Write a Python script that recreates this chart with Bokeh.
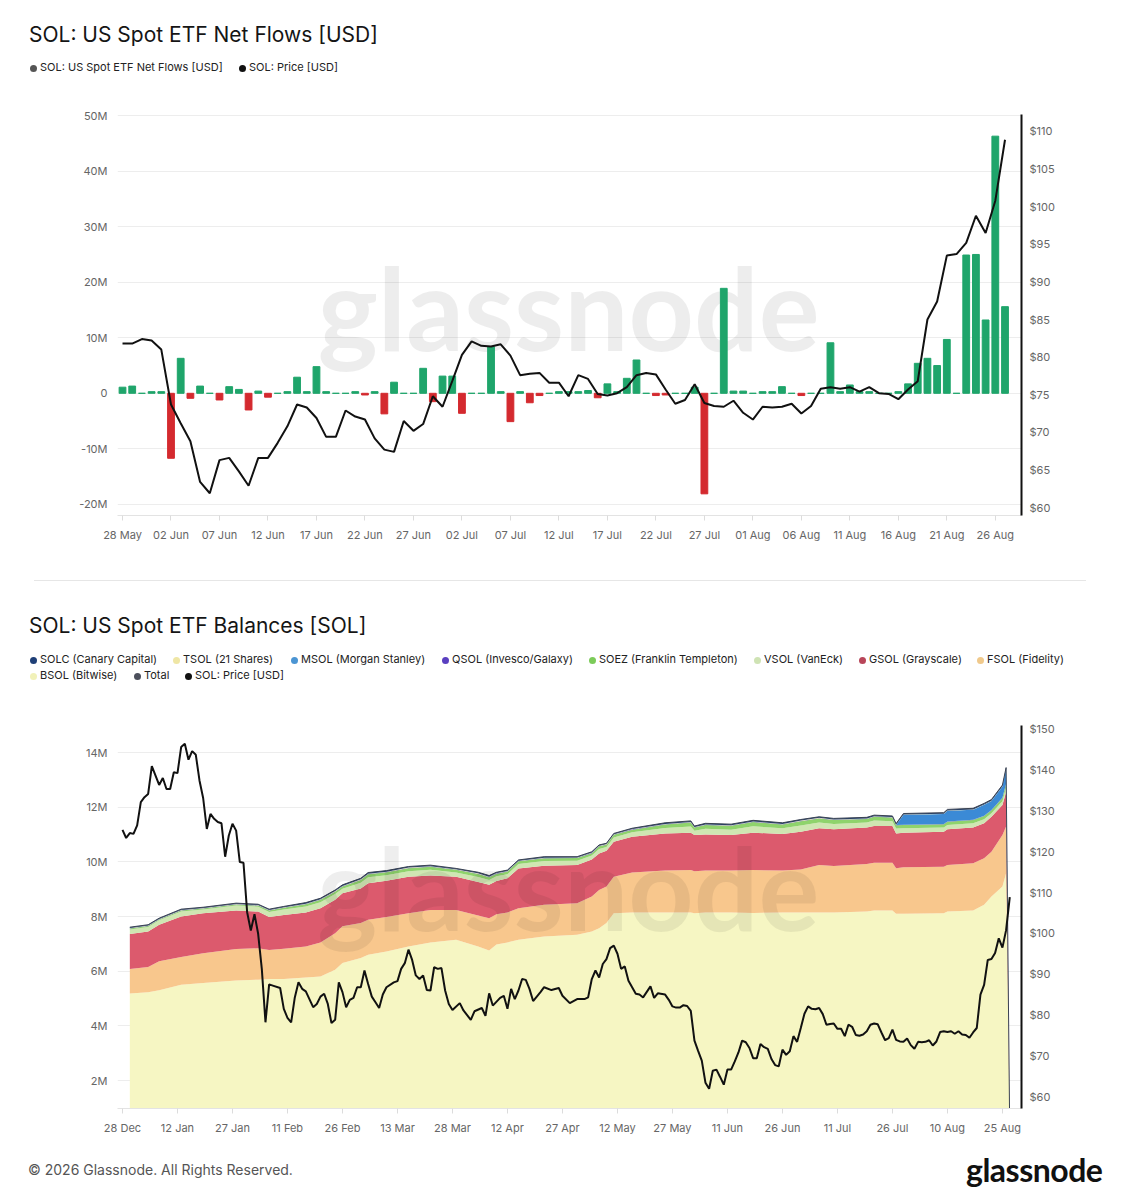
import pandas as pd
from bokeh.plotting import figure
from bokeh.layouts import column
from bokeh.models import (ColumnDataSource, Range1d, LinearAxis, FixedTicker,
                          DatetimeTickFormatter, Div)
from bokeh.core.properties import value
from bokeh.embed import file_html
from bokeh.resources import INLINE

FONT = "Inter"
DAY = 86400000

# ---------------- data: net flows (daily from 28 May) ----------------
flow_start = pd.Timestamp("2026-05-28")
net_flows_m = [1.1, 1.3, 0, 0.3, 0.3, -11.7, 6.3, -0.9, 1.3, 0,
               -1.2, 1.2, 0.7, -3.0, 0.4, -0.7, 0, 0.3, 2.9, 0.3,
               4.8, 0.3, 0, 0, 0.3, -0.3, 0.3, -3.7, 2.0, 0,
               0, 4.5, -1.5, 3.1, 3.1, -3.6, 0, 0, 8.4, 0.3,
               -5.1, 0.3, -1.7, -0.4, 0, 0.3, 0.3, 0.3, 0.5, -0.8,
               1.7, 0.3, 2.7, 6.0, 0, -0.4, -0.3, 0, 0, 1.1,
               -18.1, 0, 18.9, 0.4, 0.4, 0, 0.3, 0.3, 1.2, 0,
               -0.4, 0, 0, 9.1, 0.3, 1.5, 0.3, 0.3, 0, 0,
               0.3, 1.7, 5.4, 6.3, 5.0, 9.7, 0, 24.9, 25.0, 13.2,
               46.3, 15.6]
price_recent = [81.8, 81.8, 82.4, 82.2, 81.0, 73.7, 71.2, 68.8, 63.4, 61.9,
                66.3, 66.6, 64.8, 62.9, 66.6, 66.6, 68.6, 70.8, 73.7, 73.3,
                71.9, 69.4, 69.4, 72.9, 72.1, 71.7, 69.2, 67.7, 67.4, 71.5,
                70.2, 71.1, 74.8, 73.4, 76.8, 80.3, 82.1, 81.5, 81.4, 81.7,
                80.2, 77.6, 77.8, 77.9, 76.6, 76.6, 74.8, 77.6, 77.1, 75.1,
                74.9, 75.2, 76.0, 77.6, 77.9, 77.7, 75.7, 73.8, 74.3, 76.4,
                73.9, 73.5, 73.4, 74.2, 72.6, 71.7, 73.4, 73.3, 73.4, 73.8,
                72.5, 73.5, 75.8, 76.0, 75.8, 76.0, 75.4, 76.0, 75.2, 75.1,
                74.4, 75.7, 76.8, 85.0, 87.4, 93.5, 93.7, 95.2, 98.8, 96.5,
                100.8, 108.9]

flow_ticks_m = [-20, -10, 0, 10, 20, 30, 40, 50]
flow_price_ticks = [60, 65, 70, 75, 80, 85, 90, 95, 100, 105, 110]

# ---------------- data: ETF balances (from 28 Dec) ----------------
bal_start = pd.Timestamp("2025-12-28")
price_early_day = [0, 1, 2, 3, 4, 5, 6, 7, 8, 10, 11, 12, 13, 14, 15, 16, 17, 18, 19, 20,
                   21, 22, 23, 24, 25, 26, 27, 28, 29, 30, 31, 32, 33, 34, 35, 36, 37, 38, 39, 40,
                   41, 43, 44, 45, 46, 47, 48, 49, 50, 52, 53, 54, 55, 56, 57, 58, 59, 60, 61, 62,
                   63, 64, 65, 66, 67, 68, 69, 70, 71, 72, 74, 75, 76, 77, 78, 79, 80, 81, 82, 83,
                   84, 85, 86, 87, 88, 89, 90, 92, 93, 95, 96, 98, 99, 100, 101, 103, 104, 105, 106, 107,
                   108, 109, 110, 111, 112, 114, 115, 117, 119, 120, 122, 124, 126, 127, 128, 129, 130, 131, 132, 133,
                   134, 135, 136, 137, 138, 140, 141, 142, 144, 145, 146, 148, 149, 150]
price_early = [125.4, 123.4, 124.6, 124.4, 126.5, 132.2, 133.4, 134.2, 141.0, 136.4, 138.1, 135.4, 135.4, 139.5, 139.3, 145.7, 146.5, 142.6, 144.7, 143.8,
               137.5, 133.2, 125.6, 129.3, 128.1, 127.3, 127.0, 118.8, 124.0, 126.9, 125.2, 117.5, 117.3, 105.2, 100.7, 104.7, 99.9, 91.3, 78.2, 87.5,
               87.2, 86.6, 81.5, 79.3, 78.2, 84.3, 88.0, 86.4, 85.8, 81.9, 82.7, 84.5, 85.2, 82.7, 78.0, 78.8, 88.0, 85.6, 81.9, 83.7,
               84.2, 86.8, 86.8, 90.9, 87.6, 84.5, 83.1, 81.7, 85.0, 86.8, 88.0, 88.3, 91.3, 92.7, 96.0, 93.5, 89.7, 88.8, 89.7, 86.1,
               86.0, 91.7, 91.3, 91.5, 86.0, 82.7, 81.2, 82.9, 81.1, 78.8, 80.9, 81.7, 79.8, 85.3, 82.3, 84.2, 84.7, 81.5, 86.4, 83.9,
               86.0, 88.8, 88.6, 86.4, 83.4, 85.6, 86.8, 86.1, 86.6, 84.7, 82.9, 83.9, 83.9, 84.3, 88.8, 90.9, 89.2, 92.5, 93.7, 96.4,
               97.0, 95.0, 91.3, 91.9, 88.4, 85.2, 85.0, 84.3, 87.0, 84.2, 85.3, 85.0, 83.7, 82.1]

stack_day = [2, 7, 10, 16, 22, 31, 37, 40, 44, 50, 54, 58, 60, 65, 67, 72, 78, 84,
             91, 97, 100, 102, 105, 108, 115, 124, 128, 130, 132, 134, 139, 148, 155, 156,
             159, 166, 172, 180, 185, 190, 194, 203, 205, 210, 211, 213, 224, 225, 232, 235,
             237, 240, 241, 242]
bsol = [5.18, 5.23, 5.30, 5.50, 5.57, 5.66, 5.69, 5.71, 5.71, 5.77, 5.81, 6.05, 6.30, 6.48, 6.60, 6.72, 6.90, 7.05,
        7.15, 6.90, 6.76, 6.98, 7.05, 7.15, 7.27, 7.33, 7.45, 7.57, 7.76, 8.12, 8.15, 8.15, 8.15, 8.12,
        8.15, 8.15, 8.13, 8.15, 8.15, 8.15, 8.15, 8.18, 8.22, 8.22, 8.10, 8.10, 8.12, 8.18, 8.22, 8.43,
        8.73, 9.10, 9.58, 0]
fsol = [0.90, 0.92, 1.06, 1.02, 1.09, 1.15, 1.15, 1.07, 1.11, 1.13, 1.24, 1.34, 1.34, 1.28, 1.28, 1.26, 1.22, 1.19,
        1.09, 1.14, 1.18, 1.10, 1.10, 1.15, 1.16, 1.16, 1.28, 1.40, 1.34, 1.34, 1.46, 1.53, 1.55, 1.54,
        1.53, 1.53, 1.57, 1.53, 1.57, 1.74, 1.70, 1.74, 1.75, 1.75, 1.67, 1.70, 1.70, 1.71, 1.73, 1.70,
        1.64, 1.88, 1.71, 0]
gsol = [1.28, 1.30, 1.34, 1.48, 1.46, 1.41, 1.34, 1.20, 1.24, 1.25, 1.25, 1.22, 1.21, 1.27, 1.34, 1.33, 1.34, 1.26,
        1.22, 1.22, 1.22, 1.22, 1.25, 1.46, 1.43, 1.40, 1.36, 1.34, 1.31, 1.28, 1.31, 1.36, 1.37, 1.32,
        1.32, 1.30, 1.37, 1.34, 1.38, 1.34, 1.34, 1.34, 1.34, 1.34, 1.27, 1.27, 1.28, 1.30, 1.31, 1.28,
        1.28, 1.10, 1.27, 0]
vsol = [0.17, 0.17, 0.16, 0.18, 0.14, 0.18, 0.18, 0.19, 0.20, 0.22, 0.22, 0.21, 0.17, 0.21, 0.22, 0.20, 0.20, 0.21,
        0.15, 0.19, 0.18, 0.17, 0.15, 0.16, 0.17, 0.15, 0.14, 0.16, 0.13, 0.15, 0.16, 0.20, 0.22, 0.16,
        0.21, 0.20, 0.23, 0.21, 0.23, 0.21, 0.20, 0.18, 0.20, 0.18, 0.18, 0.16, 0.16, 0.16, 0.15, 0.15,
        0.13, 0.14, 0.16, 0]
soez = [0.03, 0.03, 0.03, 0.04, 0.03, 0.04, 0.04, 0.05, 0.06, 0.08, 0.09, 0.09, 0.08, 0.10, 0.11, 0.11, 0.11, 0.11,
        0.10, 0.11, 0.10, 0.10, 0.10, 0.10, 0.10, 0.10, 0.09, 0.10, 0.09, 0.10, 0.10, 0.13, 0.15, 0.12,
        0.14, 0.14, 0.16, 0.14, 0.16, 0.15, 0.14, 0.13, 0.14, 0.13, 0.12, 0.12, 0.12, 0.12, 0.12, 0.12,
        0.11, 0.12, 0.13, 0]
qsol = [0.01] * 53 + [0]
msol = [0] * 45 + [0.36, 0.36, 0.39, 0.37, 0.40, 0.33, 0.41, 0.54, 0]
tsol = [0.01] * 53 + [0]
solc = [0.03, 0.03, 0.03, 0.03, 0.03, 0.03, 0.03, 0.03, 0.03, 0.04, 0.04, 0.04, 0.04, 0.04, 0.04, 0.04, 0.04, 0.04,
        0.03, 0.04, 0.04, 0.03, 0.03, 0.03, 0.04, 0.03, 0.03, 0.03, 0.03, 0.03, 0.03, 0.04, 0.04, 0.03,
        0.04, 0.04, 0.04, 0.04, 0.04, 0.04, 0.04, 0.04, 0.04, 0.04, 0.04, 0.04, 0.04, 0.04, 0.04, 0.04,
        0.04, 0.04, 0.04, 0]

bal_ticks_m = [2, 4, 6, 8, 10, 12, 14]
bal_price_ticks = [60, 70, 80, 90, 100, 110, 120, 130, 140, 150]

series = ["bsol", "fsol", "gsol", "vsol", "soez", "qsol", "msol", "tsol", "solc"]
fills = ["#f6f6c3", "#f8c78d", "#dc5a6d", "#cfe6b2", "#8fd36c", "#5b40c0", "#3b8ad6", "#efe6a5", "#22406f"]


def tick_dates(start, step, count):
    return [(start + pd.Timedelta(days=step * k)).value // 10**6 for k in range(count)]


def style_axes(p, left_ticks, left_fmt, right_ticks, right_fmt, x_ticks):
    p.xgrid.visible = False
    p.ygrid.ticker = FixedTicker(ticks=left_ticks)
    p.ygrid.grid_line_color = "#ededed"
    p.outline_line_color = None
    ax = p.xaxis[0]
    ax.ticker = FixedTicker(ticks=x_ticks)
    ax.formatter = DatetimeTickFormatter(days="%d %b", months="%d %b", years="%d %b",
                                         strip_leading_zeros=False)
    ax.axis_line_color = "#e3e3e3"
    ax.major_tick_line_color = "#dcdcdc"
    ax.major_tick_in = 0
    ax.major_tick_out = 5
    ax.minor_tick_line_color = None
    ax.major_label_standoff = 7
    ay = p.yaxis[0]
    ay.ticker = FixedTicker(ticks=left_ticks)
    ay.major_label_overrides = {t: left_fmt(t) for t in left_ticks}
    ay.axis_line_color = None
    ay.major_tick_line_color = None
    ay.minor_tick_line_color = None
    ay.major_label_standoff = 4
    ar = LinearAxis(y_range_name="price", ticker=FixedTicker(ticks=right_ticks))
    ar.major_label_overrides = {t: right_fmt(t) for t in right_ticks}
    ar.axis_line_color = "#111111"
    ar.axis_line_width = 2
    ar.major_tick_line_color = None
    ar.minor_tick_line_color = None
    ar.major_label_standoff = 2
    p.add_layout(ar, "right")
    for a in (ax, ay, ar):
        a.major_label_text_font = FONT
        a.major_label_text_font_size = "11px"
        a.major_label_text_color = "#666666"


def text_at(x, y, text, size=11, color="#222222", weight="normal"):
    return (f'<div style="position:absolute;left:{x}px;top:{y}px;transform:translateY(-50%);'
            f'white-space:nowrap;font-size:{size}px;color:{color};font-weight:{weight};'
            f'line-height:1.2;">{text}</div>')


def dot_item(x, y, color, text):
    dot = (f'<div style="position:absolute;left:{x - 3}px;top:{y - 3}px;width:7px;height:7px;'
           f'border-radius:50%;background:{color};"></div>')
    return dot + text_at(x + 7, y, text, size=11)


def panel(width, height, parts):
    html = (f'<div style="position:relative;width:{width}px;height:{height}px;'
            f'font-family:Inter, sans-serif;">' + "".join(parts) + "</div>")
    return Div(text=html, width=width, height=height, margin=(0, 0, 0, 0))


# ---------------- top chart ----------------
flow_dates = [flow_start + pd.Timedelta(days=i) for i in range(len(net_flows_m))]
src1 = ColumnDataSource(dict(
    date=flow_dates, flow=net_flows_m, price=price_recent,
    color=["#1fa56b" if v >= 0 else "#d42a2f" for v in net_flows_m]))

p1 = figure(width=1120, height=480, x_axis_type="datetime", title=None,
            output_backend="svg", toolbar_location=None,
            x_range=Range1d(flow_start - pd.Timedelta(hours=12.4), flow_start + pd.Timedelta(days=92.7)),
            y_range=Range1d(-22.0, 50.2),
            min_border_left=117, min_border_right=99, min_border_top=14, min_border_bottom=65)
p1.extra_y_ranges = {"price": Range1d(58.94, 112.26)}
style_axes(p1, flow_ticks_m, lambda t: f"{t}M" if t else "0",
           flow_price_ticks, lambda t: f"${t}", tick_dates(flow_start, 5, 19))

p1.text(x=[flow_start + pd.Timedelta(days=46)], y=[15.6], text=["glassnode"],
        text_font=value("Lato"), text_font_size="114px", text_font_style="bold",
        text_color="#000000", text_alpha=0.07, text_align="center", text_baseline="middle")
p1.vbar(x="date", top="flow", width=0.7 * DAY, color="color", source=src1)
p1.line(x="date", y="price", y_range_name="price", color="#111111", line_width=2, source=src1)

head1 = panel(1120, 100, [
    text_at(29, 35, "SOL: US Spot ETF Net Flows [USD]", size=21, color="#151515"),
    dot_item(33, 68, "#555555", "SOL: US Spot ETF Net Flows [USD]"),
    dot_item(242, 68, "#111111", "SOL: Price [USD]"),
])

# ---------------- bottom chart ----------------
bal_dates = [bal_start + pd.Timedelta(days=d) for d in stack_day]
stack = dict(date=bal_dates, bsol=bsol, fsol=fsol, gsol=gsol, vsol=vsol, soez=soez,
             qsol=qsol, msol=msol, tsol=tsol, solc=solc)
stack["total"] = [sum(stack[s][i] for s in series) for i in range(len(stack_day))]
src2 = ColumnDataSource(stack)

price_all_dates = [bal_start + pd.Timedelta(days=d) for d in price_early_day] + flow_dates
price_all = price_early + price_recent

p2 = figure(width=1120, height=450, x_axis_type="datetime", title=None,
            output_backend="svg", toolbar_location=None,
            x_range=Range1d(bal_start - pd.Timedelta(days=1.36), bal_start + pd.Timedelta(days=245.2)),
            y_range=Range1d(0.976, 14.99),
            min_border_left=117, min_border_right=99, min_border_top=25, min_border_bottom=42)
p2.extra_y_ranges = {"price": Range1d(57.06, 150.98)}
style_axes(p2, bal_ticks_m, lambda t: f"{t}M", bal_price_ticks, lambda t: f"${t}",
           tick_dates(bal_start, 15, 17))

p2.varea_stack(stackers=series, x="date", color=fills, source=src2)
p2.line(x="date", y="total", color="#3a4252", line_width=1, source=src2)
p2.text(x=[bal_start + pd.Timedelta(days=121.6)], y=[9.1], text=["glassnode"],
        text_font=value("Lato"), text_font_size="114px", text_font_style="bold",
        text_color="#000000", text_alpha=0.065, text_align="center", text_baseline="middle")
p2.line(x=price_all_dates, y=price_all, y_range_name="price", color="#111111", line_width=2)

legend_rows = [
    (660, [(33, "#1f3f77", "SOLC (Canary Capital)"), (176, "#efe6a5", "TSOL (21 Shares)"),
           (294, "#4b95d3", "MSOL (Morgan Stanley)"), (445, "#5a3fc0", "QSOL (Invesco/Galaxy)"),
           (592, "#7ccb59", "SOEZ (Franklin Templeton)"), (757, "#cfe3b4", "VSOL (VanEck)"),
           (862, "#b84559", "GSOL (Grayscale)"), (980, "#f0c98b", "FSOL (Fidelity)")]),
    (676, [(33, "#f1f1b9", "BSOL (Bitwise)"), (137, "#4c505c", "Total"),
           (188, "#111111", "SOL: Price [USD]")]),
]
parts2 = [text_at(29, 626 - 581, "SOL: US Spot ETF Balances [SOL]", size=21, color="#151515")]
for y, items in legend_rows:
    for x, c, t in items:
        parts2.append(dot_item(x, y - 581, c, t))
head2 = panel(1120, 119, parts2)

footer = panel(1120, 50, [
    text_at(28, 20, "\u00a9 2026 Glassnode. All Rights Reserved.", size=14, color="#555555"),
    f'<div style="position:absolute;left:966px;top:20px;transform:translateY(-50%);'
    f'font-family:Lato, sans-serif;font-weight:bold;font-size:32px;color:#111111;'
    f'letter-spacing:-0.5px;">glassnode</div>',
])

sep = Div(text="", width=1052, height=1, margin=(0, 0, 0, 34),
          styles={"background-color": "#e6e6e6"})

layout = column(head1, p1, sep, head2, p2, footer)
open("out.html", "w").write(file_html(layout, INLINE))
